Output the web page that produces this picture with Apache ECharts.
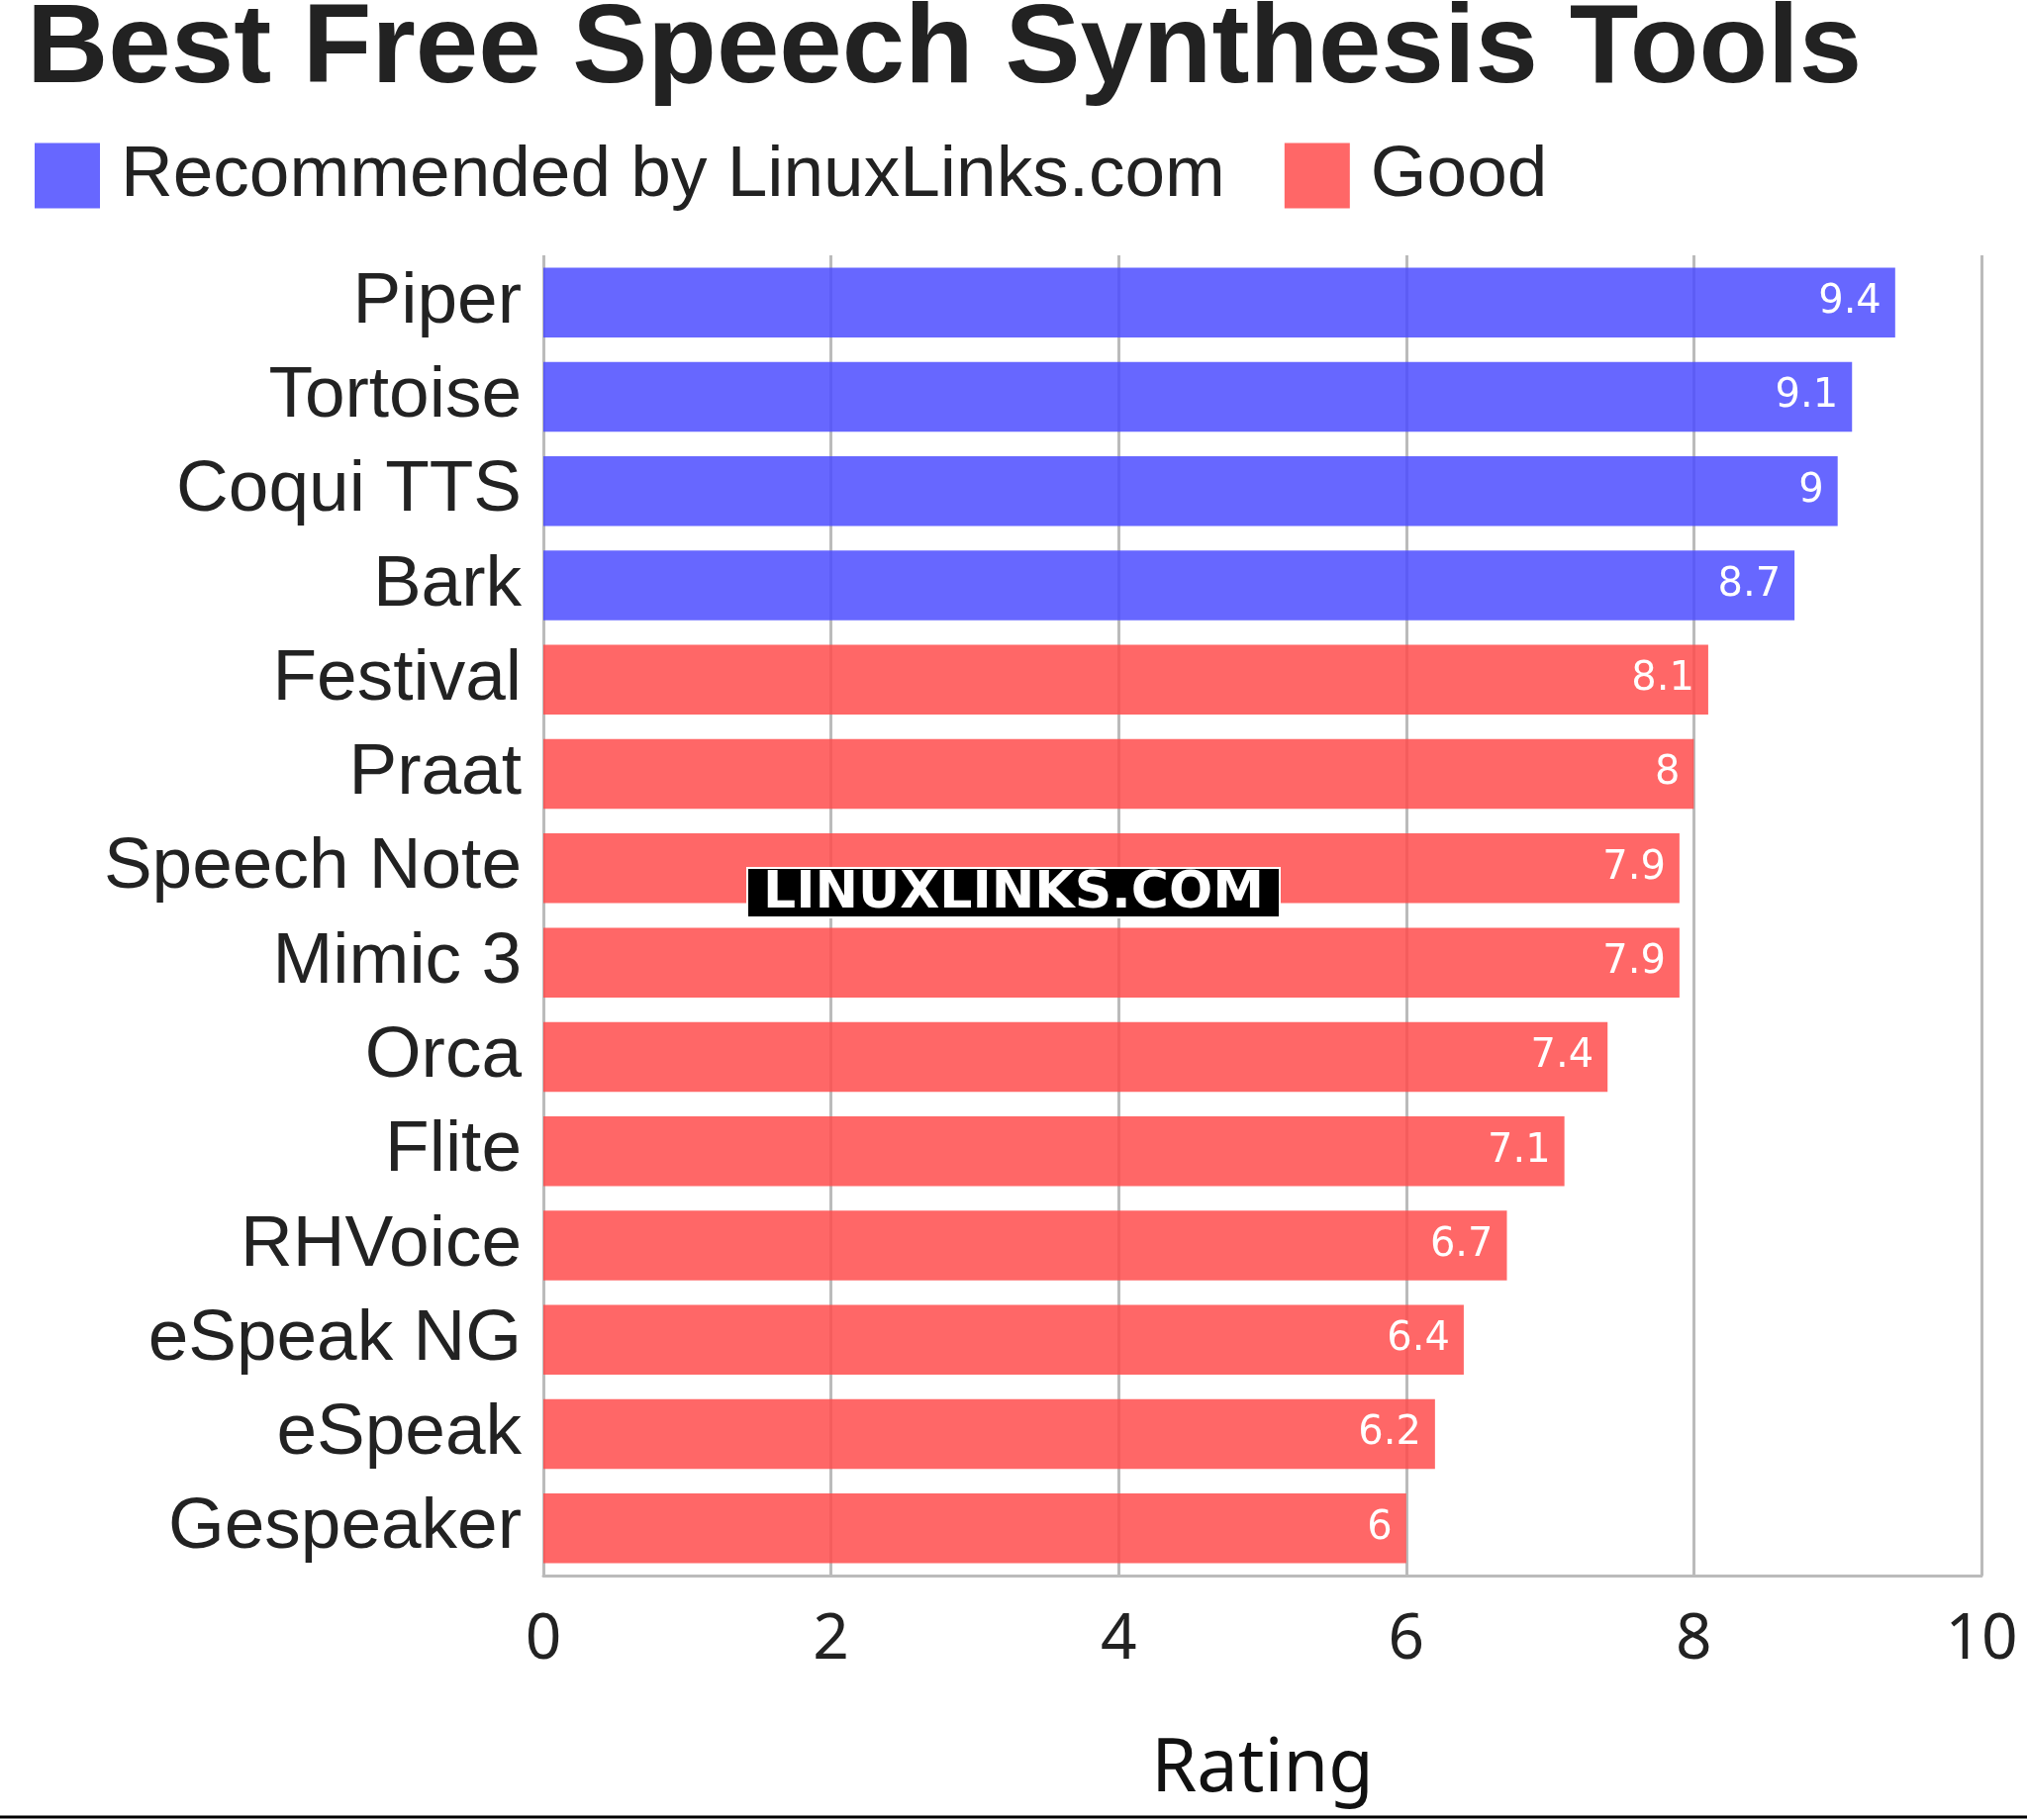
<!DOCTYPE html><html><head><meta charset="utf-8"><script src="https://cdn.jsdelivr.net/npm/echarts@6/dist/echarts.min.js"></script>
<style>html,body{margin:0;padding:0;background:#fff}#c{width:2048px;height:1839px}</style></head><body><div id="c"></div>
<script>
const categories=["Piper","Tortoise","Coqui TTS","Bark","Festival","Praat","Speech Note","Mimic 3","Orca","Flite","RHVoice","eSpeak NG","eSpeak","Gespeaker"];
const recommended=[9.4,9.1,9,8.7,null,null,null,null,null,null,null,null,null,null];
const good=[null,null,null,null,8.1,8,7.9,7.9,7.4,7.1,6.7,6.4,6.2,6];
const xTicks=[0,2,4,6,8,10];
const chart=echarts.init(document.getElementById('c'));
const lbl={show:true,position:'insideRight',color:'#fff',fontSize:40,fontFamily:'DejaVu Sans',distance:14};
chart.setOption({
 animation:false,
 title:{text:'Best Free Speech Synthesis Tools',left:22,top:-10,textStyle:{fontSize:114,fontWeight:'bold',color:'#222',fontFamily:'Liberation Sans'}},
 legend:{left:30,top:136,itemWidth:66,itemHeight:66,itemGap:60,icon:'rect',textStyle:{fontSize:73,color:'#222',fontFamily:'Liberation Sans',padding:[0,0,0,16]},data:['Recommended by LinuxLinks.com','Good']},
 grid:{left:549,right:46,top:258,bottom:247,containLabel:false},
 xAxis:{type:'value',min:0,max:10,interval:2,name:'Rating',nameLocation:'middle',nameGap:160,nameTextStyle:{fontSize:74,color:'#111',fontFamily:'Noto Sans'},
  axisLabel:{fontSize:64,color:'#222',margin:34,fontFamily:'Noto Sans'},splitLine:{show:true,lineStyle:{color:'#bbb',width:3}},axisLine:{show:true,lineStyle:{color:'#bbb',width:3}},axisTick:{show:false}},
 yAxis:{type:'category',inverse:true,data:categories,axisLabel:{fontSize:73,color:'#222',margin:22,fontFamily:'Liberation Sans'},axisLine:{show:false},axisTick:{show:false}},
 graphic:[{type:'rect',z:100,zlevel:1,shape:{x:755,y:877,width:538,height:50},style:{fill:'#000',stroke:'#fff',lineWidth:2}},
  {type:'text',z:101,zlevel:1,style:{x:1024,y:903,text:'LINUXLINKS.COM',fill:'#fff',font:'bold 52px "DejaVu Sans"',textAlign:'center',textVerticalAlign:'middle'}},
  {type:'line',shape:{x1:0,y1:1836,x2:2048,y2:1836},style:{stroke:'#000',lineWidth:3}}],
 series:[
  {name:'Recommended by LinuxLinks.com',type:'bar',stack:'a',data:recommended,barWidth:'74%',itemStyle:{color:'rgba(76,76,255,0.85)'},label:lbl,z:1},
  {name:'Good',type:'bar',stack:'a',data:good,barWidth:'74%',itemStyle:{color:'rgba(255,76,76,0.85)'},label:lbl,z:1}
 ]
});
</script></body></html>
